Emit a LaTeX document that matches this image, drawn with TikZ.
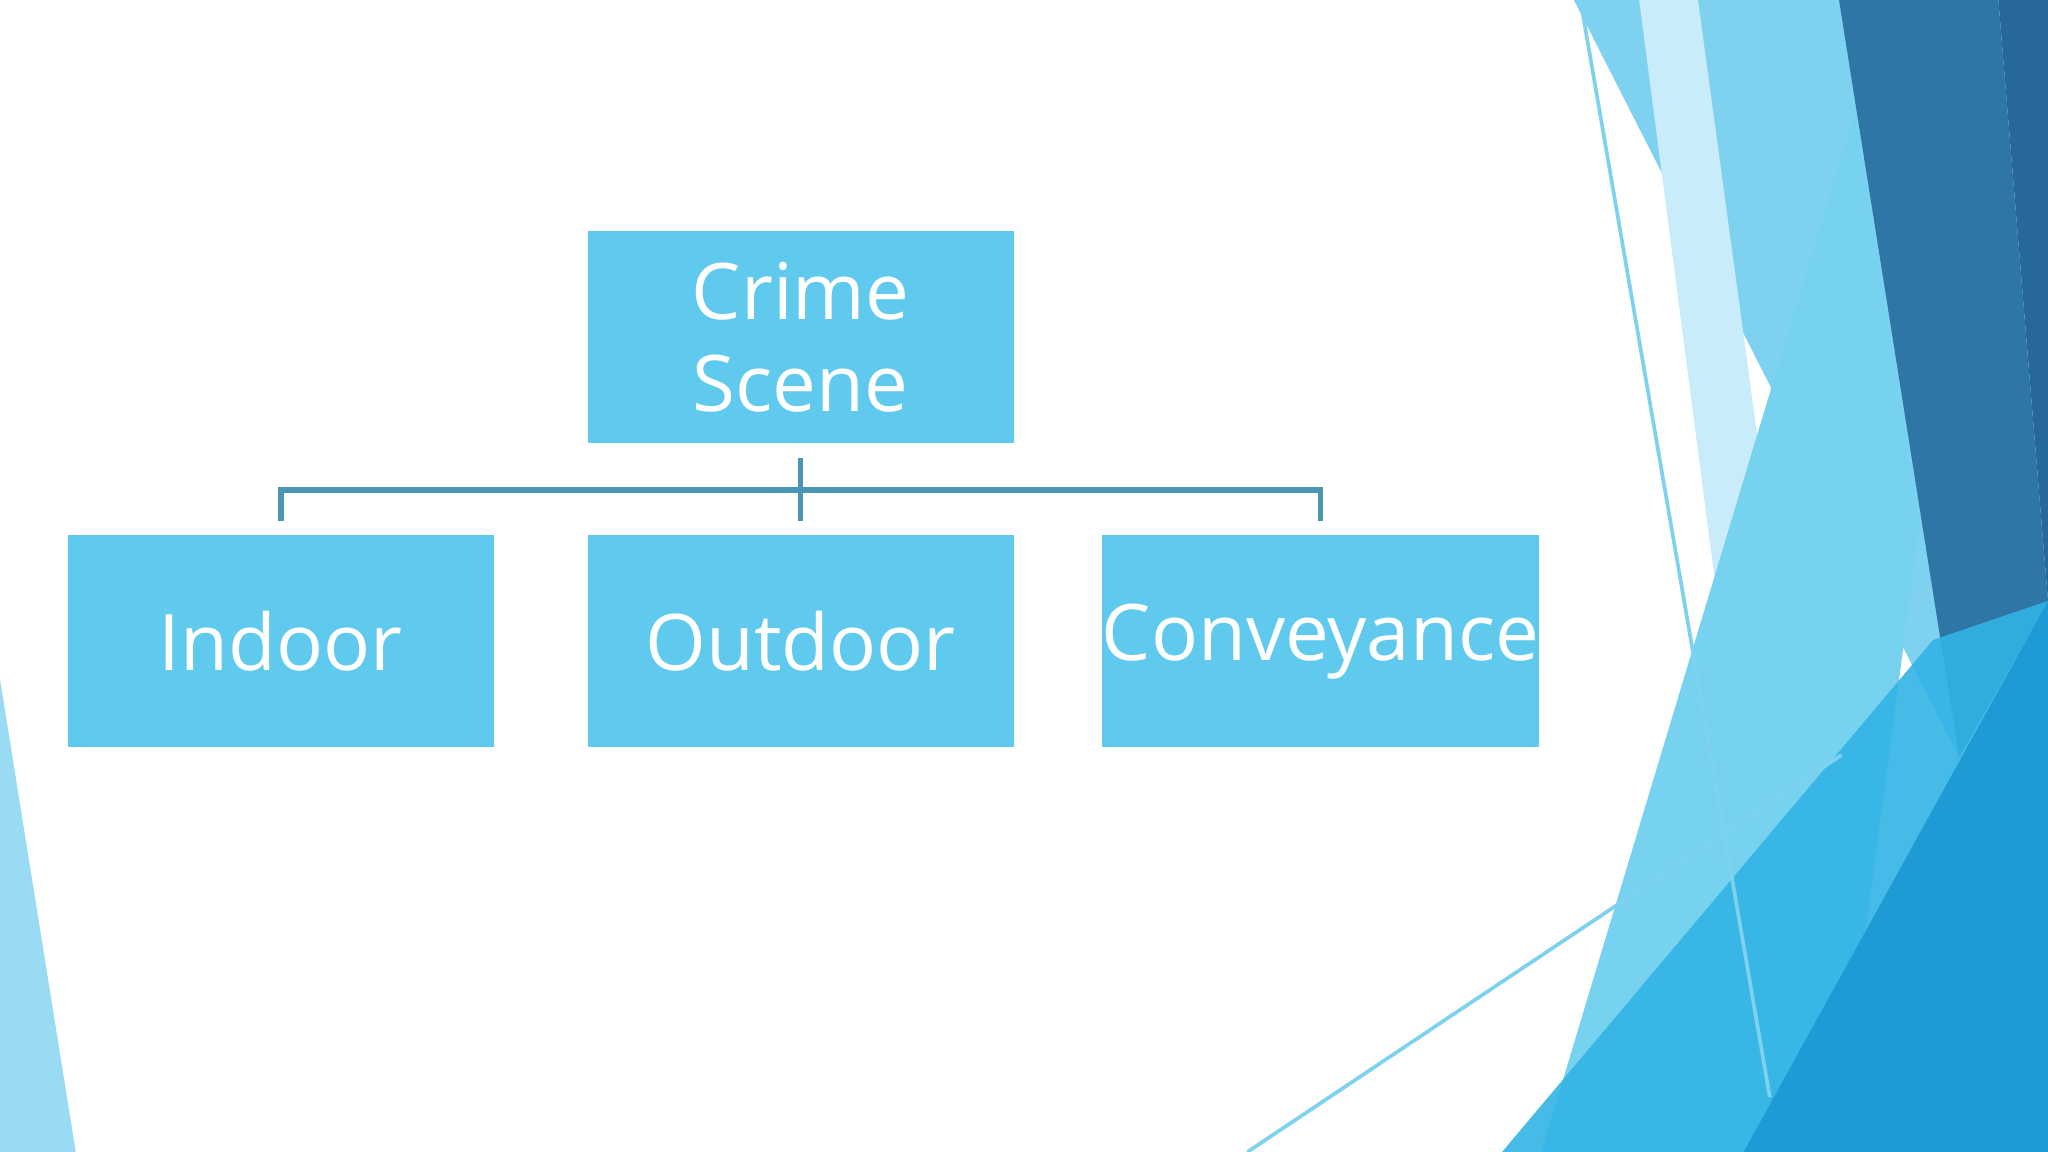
\documentclass[tikz,border=0pt]{standalone}
\usepackage{fontspec}
\setmainfont{Open Sans}
\definecolor{boxblue}{RGB}{95,202,238}
\definecolor{linkteal}{RGB}{75,150,180}
\definecolor{skyA}{RGB}{126,210,240}
\definecolor{skyB}{RGB}{200,236,250}
\definecolor{deepA}{RGB}{45,118,165}
\definecolor{deepB}{RGB}{38,104,155}
\definecolor{brightA}{RGB}{50,180,228}
\definecolor{brightB}{RGB}{30,155,212}
\tikzset{
  catbox/.style={fill=boxblue,minimum width=3.26cm,minimum height=1.62cm,
    text=white,font=\fontsize{17}{20}\selectfont,align=center,inner sep=0pt},
  link/.style={draw=linkteal,line width=1.2pt}
}
\begin{document}
\begin{tikzpicture}[x=0.01cm,y=-0.01cm]
  \useasboundingbox (0,0) rectangle (1568,882);
  % background shapes
  \fill[skyA] (1205,0) -- (1410,0) -- (1500,580) -- cycle;
  \fill[skyB] (1255,0) -- (1300,0) -- (1420,882) -- (1370,882) -- cycle;
  \fill[boxblue!85] (1420,85) -- (1470,400) -- (1430,700) -- (1400,882) -- (1180,882) -- cycle;
  \fill[deepA] (1408,0) -- (1530,0) -- (1568,460) -- (1500,580) -- cycle;
  \fill[deepB] (1530,0) -- (1568,0) -- (1568,460) -- cycle;
  \fill[brightA,opacity=.9] (1150,882) -- (1480,490) -- (1568,460) -- (1568,882) -- cycle;
  \fill[brightB] (1335,882) -- (1568,460) -- (1568,882) -- cycle;
  \draw[skyA,line width=.8pt] (1210,0) -- (1355,840);
  \draw[skyA,line width=.8pt] (955,882) -- (1410,578);
  \fill[skyA!80] (0,520) -- (0,882) -- (58,882) -- cycle;
  % boxes
  \node[catbox] (scene) at (613,258) {Crime\\Scene};
  \node[catbox] (indoor) at (215,491) {Indoor};
  \node[catbox] (outdoor) at (613,491) {Outdoor};
  \node[catbox] (convey) at (1011,491) {Conveyance};
  % connectors
  \draw[link] ([yshift=-3pt]scene.south) -- ([yshift=3pt]outdoor.north);
  \draw[link] ([yshift=3pt]indoor.north) |- (613,375) -| ([yshift=3pt]convey.north);
\end{tikzpicture}
\end{document}
